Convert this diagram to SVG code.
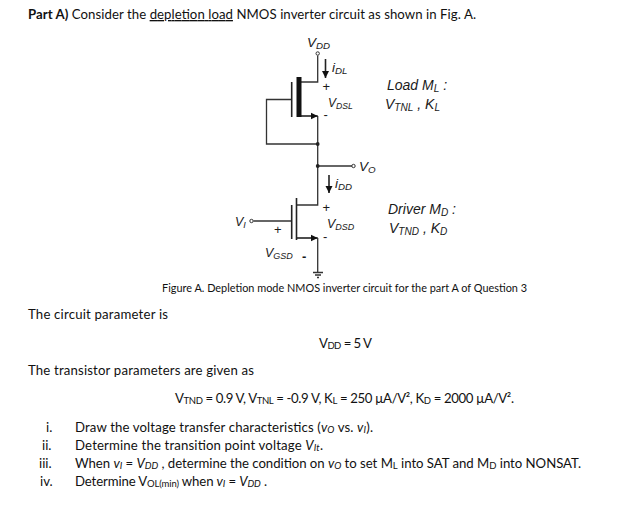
<svg xmlns="http://www.w3.org/2000/svg" width="623" height="531" viewBox="0 0 623 531">
<style>
.t{font-family:"Lato","Carlito","Liberation Sans",sans-serif;font-size:13.2px;fill:#111}
.c{font-family:"Liberation Sans",Arial,sans-serif;font-style:italic;font-size:13.5px;fill:#1a1a1a}
.p{font-family:"Liberation Sans",Arial,sans-serif;font-size:13px;fill:#1a1a1a}
.s{font-size:72%}
.w{fill:none;stroke:#333;stroke-width:1.3}
.h{fill:none;stroke:#222;stroke-width:1.6}
.pin{fill:#fff;stroke:#333;stroke-width:1}
</style>
<defs>
<marker id="a" markerUnits="userSpaceOnUse" markerWidth="8" markerHeight="8" refX="7" refY="4" orient="auto"><path d="M0 0.5L7 4L0 7.5z" fill="#111"/></marker>
</defs>
<rect width="623" height="531" fill="#fff"/>
<g id="connectors">
<path class="w" d="M317.7 55.5V82H297"/>
<path class="w" d="M317.7 116V166"/>
<path class="h" d="M297 116H317.7" marker-end="url(#a)"/>
<path class="w" d="M291.5 99.5H266.5V144H317.7"/>
<path class="w" d="M317.7 166H352"/>
<path class="w" d="M317.7 166V205H297"/>
<path class="h" d="M297 238H317.7" marker-end="url(#a)"/>
<path class="w" d="M317.7 238V272"/>
<path class="w" d="M253.5 221H291.5"/>
<path class="h" d="M325.5 59V78" marker-end="url(#a)"/>
<path class="h" d="M329 175V193" marker-end="url(#a)"/>
</g>
<g id="load-transistor">
<rect x="296.5" y="77" width="5" height="40" fill="#111"/>
<path class="h" d="M291.7 82V117"/>
<circle class="pin" cx="317.7" cy="53.5" r="1.7"/>
<circle cx="317.7" cy="144" r="1.9" fill="#222"/>
</g>
<g id="driver-transistor">
<path class="h" d="M296.5 198V240M291.7 205V239"/>
<circle cx="317.7" cy="166" r="1.9" fill="#222"/>
<circle class="pin" cx="353.5" cy="166" r="1.7"/>
<circle class="pin" cx="251.5" cy="221" r="1.7"/>
</g>
<g id="ground">
<path class="w" d="M313 272.5H323M315 275H321M317 277.5H319"/>
</g>
<g id="labels">
<text class="c" x="307" y="47">V<tspan class="s" dy="2">DD</tspan></text>
<text class="c" x="332" y="72">i<tspan class="s" dy="2">DL</tspan></text>
<text class="p" x="322.5" y="91">+</text>
<text class="c" x="328" y="107" style="font-size:12px">V<tspan class="s" dy="2">DSL</tspan></text>
<text class="p" x="323.5" y="119">-</text>
<text class="c" x="387" y="90" style="font-size:14px">Load M<tspan class="s" dy="2">L</tspan><tspan dy="-2"> :</tspan></text>
<text class="c" x="385" y="109" style="font-size:14px">V<tspan class="s" dy="2">TNL</tspan><tspan dy="-2"> , K</tspan><tspan class="s" dy="2">L</tspan></text>
<text class="c" x="359" y="171">V<tspan class="s" dy="2">O</tspan></text>
<text class="c" x="335" y="188">i<tspan class="s" dy="2">DD</tspan></text>
<text class="p" x="322.5" y="212">+</text>
<text class="c" x="327" y="228" style="font-size:12.5px">V<tspan class="s" dy="2">DSD</tspan></text>
<text class="p" x="323" y="241">-</text>
<text class="c" x="388" y="214" style="font-size:14px">Driver M<tspan class="s" dy="2">D</tspan><tspan dy="-2"> :</tspan></text>
<text class="c" x="389" y="233" style="font-size:14px">V<tspan class="s" dy="2">TND</tspan><tspan dy="-2"> , K</tspan><tspan class="s" dy="2">D</tspan></text>
<text class="c" x="235" y="226" style="font-size:12.5px">V<tspan class="s" dy="2">I</tspan></text>
<text class="p" x="274" y="234">+</text>
<text class="c" x="265" y="257" style="font-size:12.5px">V<tspan class="s" dy="2">GSD</tspan></text>
<text class="p" x="302" y="261" font-weight="bold">-</text>
</g>
<g id="text">
<text class="t" x="28" y="19" textLength="448"><tspan font-weight="bold">Part A)</tspan> Consider the <tspan text-decoration="underline">depletion load</tspan> NMOS inverter circuit as shown in Fig. A.</text>
<text class="t" x="162" y="292" style="font-size:10.9px" textLength="365">Figure A. Depletion mode NMOS inverter circuit for the part A of Question 3</text>
<text class="t" x="28" y="319" textLength="140">The circuit parameter is</text>
<text class="t" x="319" y="348" textLength="53">V<tspan class="s" dy="1">DD</tspan><tspan dy="-1"> = 5 V</tspan></text>
<text class="t" x="28" y="375" textLength="226">The transistor parameters are given as</text>
<text class="t" x="175" y="403" textLength="339">V<tspan class="s" dy="1">TND</tspan><tspan dy="-1"> = 0.9 V, V</tspan><tspan class="s" dy="1">TNL</tspan><tspan dy="-1"> = -0.9 V, K</tspan><tspan class="s" dy="1">L</tspan><tspan dy="-1"> = 250 µA/V², K</tspan><tspan class="s" dy="1">D</tspan><tspan dy="-1"> = 2000 µA/V².</tspan></text>
<text class="t" x="46" y="432">i.</text>
<text class="t" x="75" y="432" textLength="298">Draw the voltage transfer characteristics (<tspan font-style="italic">v</tspan><tspan class="s" font-style="italic" dy="1">O</tspan><tspan dy="-1"> vs. </tspan><tspan font-style="italic">v</tspan><tspan class="s" font-style="italic" dy="1">I</tspan><tspan dy="-1">).</tspan></text>
<text class="t" x="42" y="450">ii.</text>
<text class="t" x="75" y="450" textLength="248">Determine the transition point voltage <tspan font-style="italic">V</tspan><tspan class="s" font-style="italic" dy="1">It</tspan><tspan dy="-1">.</tspan></text>
<text class="t" x="39" y="468">iii.</text>
<text class="t" x="75" y="468" textLength="506">When <tspan font-style="italic">v</tspan><tspan class="s" font-style="italic" dy="1">I</tspan><tspan dy="-1"> = </tspan><tspan font-style="italic">V</tspan><tspan class="s" font-style="italic" dy="1">DD</tspan><tspan dy="-1"> , determine the condition on </tspan><tspan font-style="italic">v</tspan><tspan class="s" font-style="italic" dy="1">O</tspan><tspan dy="-1"> to set M</tspan><tspan class="s" dy="1">L</tspan><tspan dy="-1"> into SAT and M</tspan><tspan class="s" dy="1">D</tspan><tspan dy="-1"> into NONSAT.</tspan></text>
<text class="t" x="40" y="486">iv.</text>
<text class="t" x="75" y="486" textLength="192">Determine V<tspan class="s" dy="1">OL(min)</tspan><tspan dy="-1"> when </tspan><tspan font-style="italic">v</tspan><tspan class="s" font-style="italic" dy="1">I</tspan><tspan dy="-1"> = </tspan><tspan font-style="italic">V</tspan><tspan class="s" font-style="italic" dy="1">DD</tspan><tspan dy="-1"> .</tspan></text>
</g>
</svg>
